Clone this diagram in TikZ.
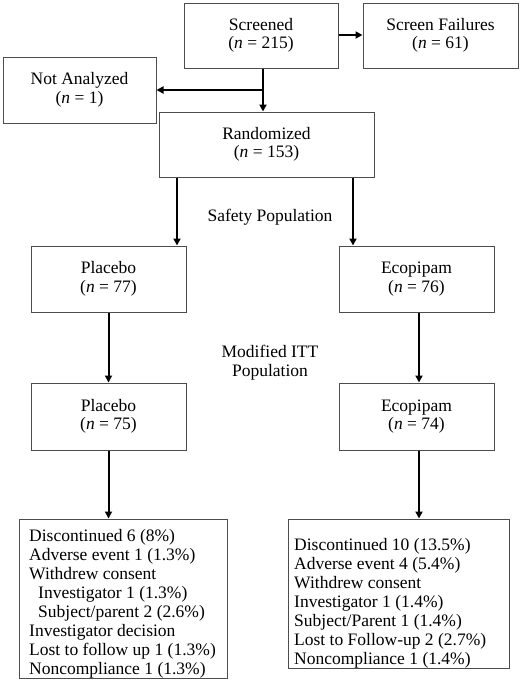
\documentclass[tikz,border=0pt]{standalone}
\usepackage{fontspec}
\setmainfont{Liberation Serif}
\usetikzlibrary{arrows.meta}
\begin{document}
\begin{tikzpicture}[x=1pt,y=-1pt,
  every node/.style={font=\fontsize{17.5}{18.5}\selectfont, inner sep=0pt},
  box/.style={draw=black!70, line width=1pt, align=center, minimum width=#1},
  box/.default=155pt,
  listtxt/.style={anchor=north west, align=left, font=\fontsize{17.5}{18.9}\selectfont},
  conn/.style={line width=2pt, -{Triangle[length=7pt,width=7pt]}},
  lbl/.style={align=center}]
\useasboundingbox (0,0) rectangle (520,681);
\fill[white] (0,0) rectangle (520,681);
% boxes
\node[box=154pt, minimum height=65pt] (scr) at (261,35.5) {Screened\\(\textit{n} = 215)};
\node[box=155pt, minimum height=65pt] (sf) at (440.5,35.5) {Screen Failures\\(\textit{n} = 61)};
\node[box=153pt, minimum height=66pt] (na) at (79.5,90) {Not Analyzed\\(\textit{n} = 1)};
\node[box=215pt, minimum height=65pt] (rand) at (266.5,144.5) {Randomized\\(\textit{n} = 153)};
\node[box=155pt, minimum height=66pt] (pl1) at (108.5,279) {Placebo\\(\textit{n} = 77)};
\node[box=155pt, minimum height=66pt] (ec1) at (416.5,279) {Ecopipam\\(\textit{n} = 76)};
\node[box=155pt, minimum height=67pt] (pl2) at (108.5,416.5) {Placebo\\(\textit{n} = 75)};
\node[box=155pt, minimum height=67pt] (ec2) at (416.5,416.5) {Ecopipam\\(\textit{n} = 74)};
\node[box=208pt, minimum height=159pt] (dl) at (123,598.5) {};
\node[box=221pt, minimum height=149pt] (dr) at (398.5,593.5) {};
% box texts
\node[listtxt] (dltxt) at (29,529.5) {Discontinued 6 (8\%)\\Adverse event 1 (1.3\%)\\Withdrew consent\\\hspace*{9pt}Investigator 1 (1.3\%)\\\hspace*{9pt}Subject/parent 2 (2.6\%)\\Investigator decision\\Lost to follow up 1 (1.3\%)\\Noncompliance 1 (1.3\%)};
\node[listtxt] (drtxt) at (294,538.5) {Discontinued 10 (13.5\%)\\Adverse event 4 (5.4\%)\\Withdrew consent\\Investigator 1 (1.4\%)\\Subject/Parent 1 (1.4\%)\\Lost to Follow-up 2 (2.7\%)\\Noncompliance 1 (1.4\%)};
% labels
\node[lbl] (safety) at (270,217) {Safety Population};
\node[lbl] (mitt) at (270,362.5) {Modified ITT\\Population};
% connectors
\coordinate (j) at (263,90);
\coordinate (a1) at (177,0);
\coordinate (a2) at (353,0);
\coordinate (a3) at (419,0);
\draw[conn] (scr.east |- 0,35) -- (sf.west |- 0,35);
\draw[conn] (scr.south -| j) -- (rand.north -| j);
\draw[conn] (j) -- (na.east);
\draw[conn] (rand.south -| a1) -- (pl1.north -| a1);
\draw[conn] (rand.south -| a2) -- (ec1.north -| a2);
\draw[conn] (pl1.south) -- (pl2.north);
\draw[conn] (ec1.south -| a3) -- (ec2.north -| a3);
\draw[conn] (pl2.south) -- (dl.north -| pl2.south);
\draw[conn] (ec2.south -| a3) -- (dr.north -| a3);
\end{tikzpicture}
\end{document}
